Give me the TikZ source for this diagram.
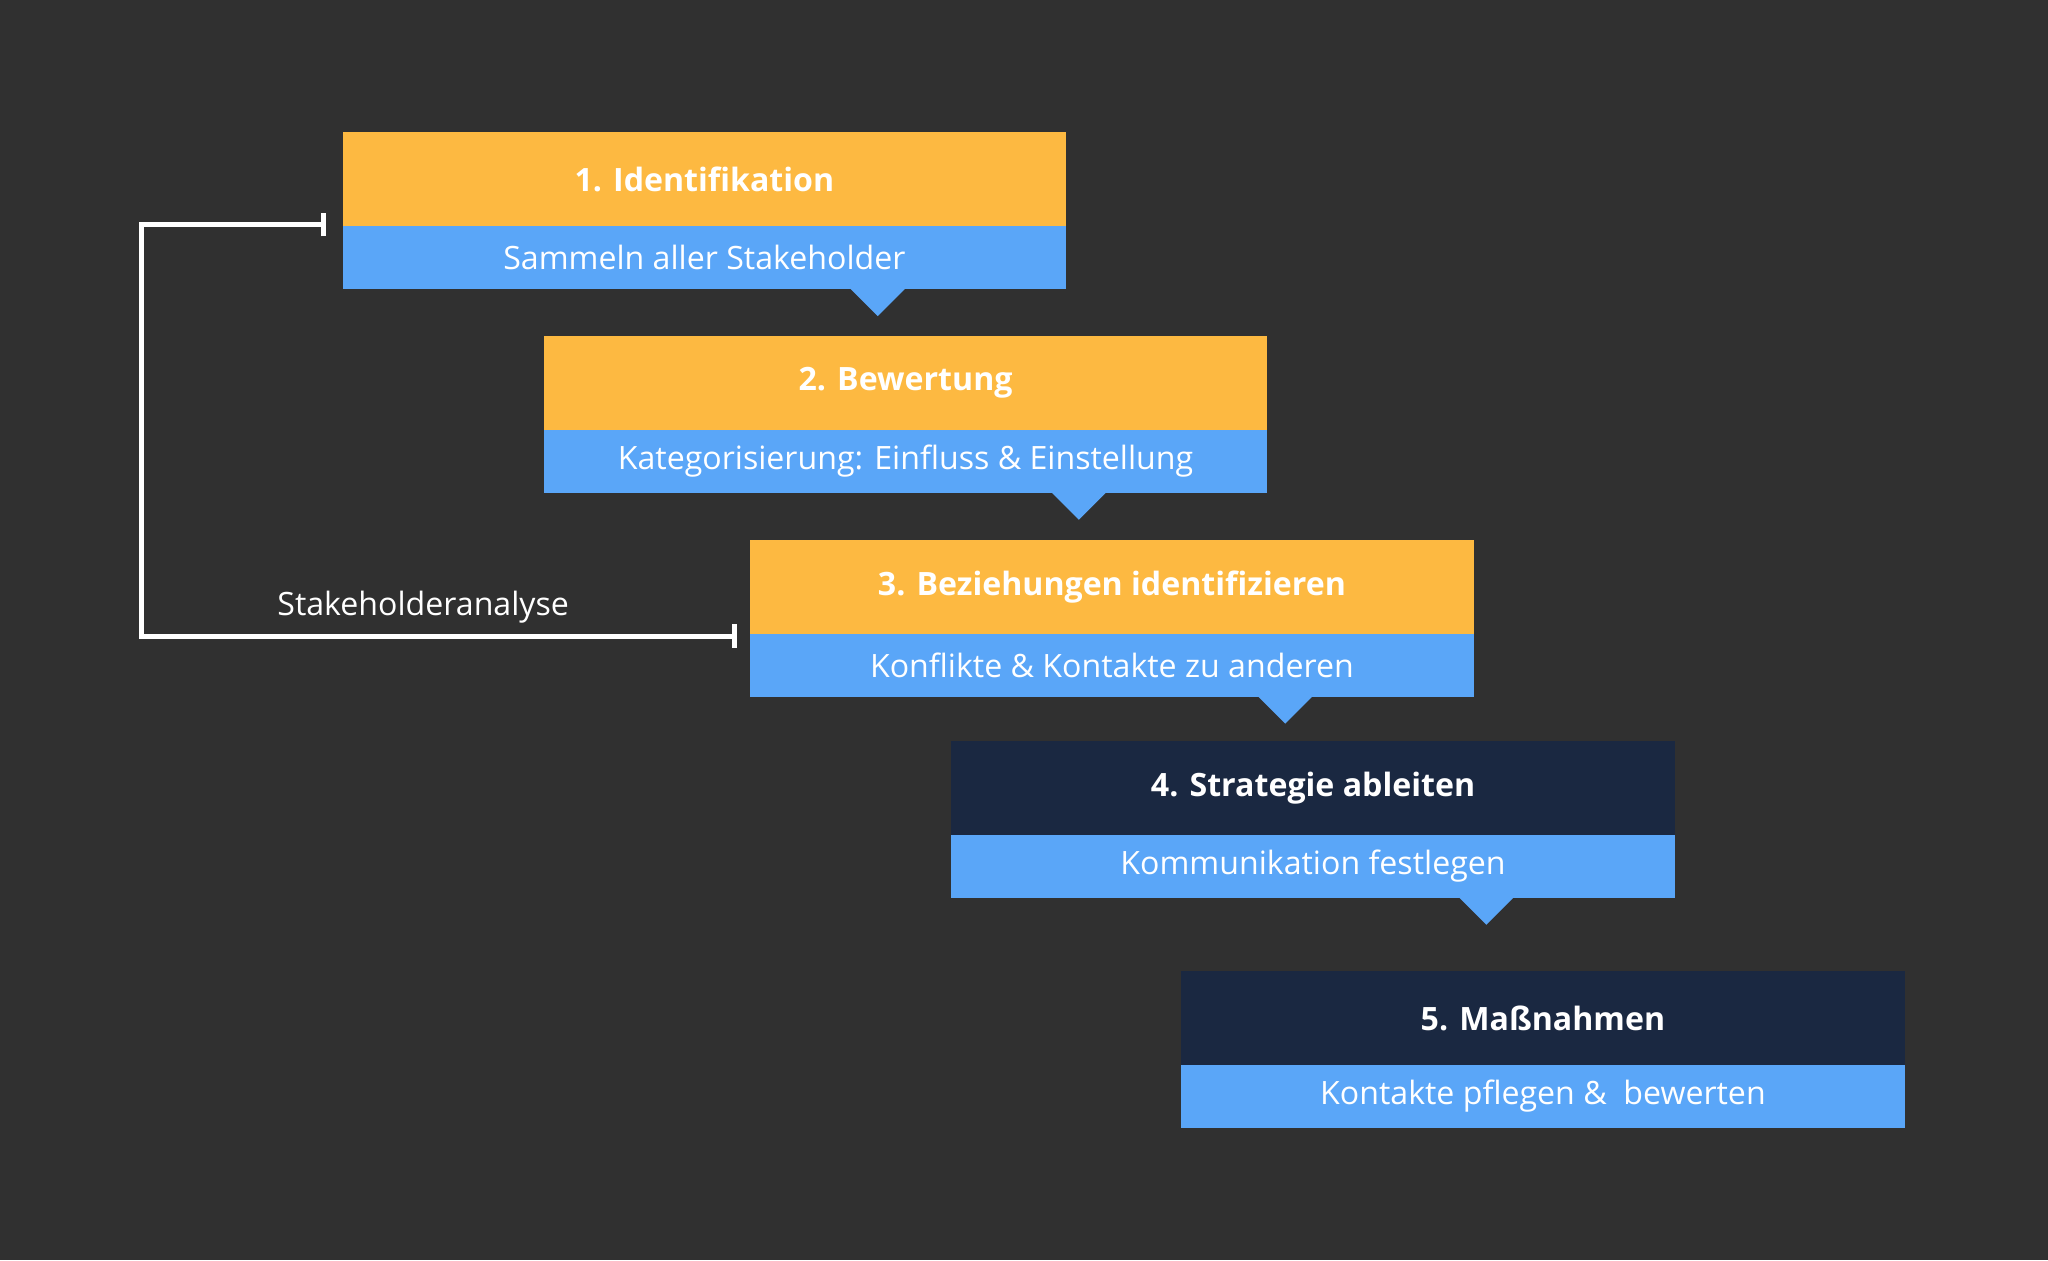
\documentclass[tikz,border=0pt]{standalone}
\usepackage{fontspec}
\setmainfont{Open Sans}
\definecolor{bg}{HTML}{303030}
\definecolor{org}{HTML}{FDB941}
\definecolor{blu}{HTML}{5AA6F8}
\definecolor{nav}{HTML}{1A2841}
\begin{document}
\begin{tikzpicture}[x=0.02cm,y=-0.02cm,
  hd/.style={minimum width=11.08cm,minimum height=1.44cm,inner sep=0,text=white,font=\fontsize{14}{16}\selectfont\bfseries,anchor=north west},
  sb/.style={fill=blu,minimum width=11.08cm,minimum height=0.96cm,inner sep=0,text=white,font=\fontsize{14}{16}\selectfont,anchor=north west},
  nt/.style={fill=blu}]
\fill[bg] (0,0) rectangle (1568,965);
\useasboundingbox (0,0) rectangle (1568,965);
\foreach \i/\x/\y/\c/\t/\s/\n in {1/262/101/org/1. Identifikation/Sammeln aller Stakeholder/672,
 2/416/257/org/2. Bewertung/{Kategorisierung: Einfluss \& Einstellung}/826,
 3/574/413/org/3. Beziehungen identifizieren/{Konflikte \& Kontakte zu anderen}/984,
 4/728/567/nav/4. Strategie ableiten/Kommunikation festlegen/1138,
 5/904/743/nav/5. Maßnahmen/{Kontakte pflegen \&\ \ bewerten}/0}{
  \node[hd,fill=\c] (h\i) at (\x,\y) {\t};
  \node[sb] (s\i) at (\x,\y+72) {\s};
  \ifnum\n>0 \fill[blu] (\n-22,\y+119) -- (\n+22,\y+119) -- (\n,\y+141) -- cycle;\fi
}
\coordinate (a) at (248,172);
\coordinate (b) at (562,487);
\draw[white,line width=2.2pt] (a) -- (108,172) -- (108,487) -- (b);
\draw[white,line width=2.2pt] ([yshift=-0.18cm]a) -- ([yshift=0.18cm]a);
\draw[white,line width=2.2pt] ([yshift=-0.18cm]b) -- ([yshift=0.18cm]b);
\node[text=white,font=\fontsize{14}{16}\selectfont] (lab) at (324,465) {Stakeholderanalyse};
\end{tikzpicture}
\end{document}
